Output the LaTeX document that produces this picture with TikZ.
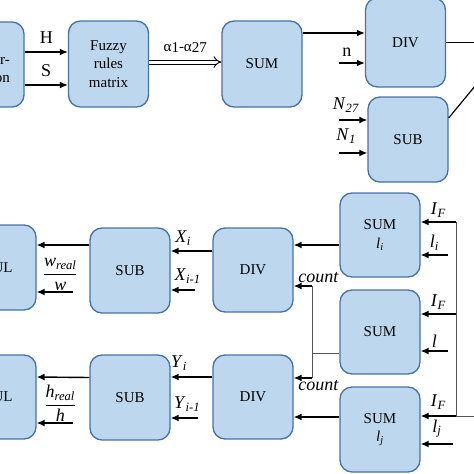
\documentclass[tikz,border=0pt]{standalone}
\usepackage{fontspec}
\setmainfont{Liberation Serif}
\usepackage{xcolor}
\usetikzlibrary{arrows.meta}
\definecolor{boxfill}{RGB}{189,215,238}
\definecolor{boxline}{RGB}{70,114,168}
\definecolor{busgray}{RGB}{85,85,85}
\newcommand{\sv}[2]{\textit{#1}\textsubscript{\textit{#2}}}

\begin{document}
\begin{tikzpicture}[x=1pt, y=-1pt, >={Latex[length=8pt,width=7pt]},
  blk/.style={draw=boxline, fill=boxfill, line width=1.3pt, rounded corners=12pt,
    minimum width=80pt, minimum height=85pt, align=center, inner sep=2pt,
    font=\fontsize{15}{18.5}\selectfont},
  sig/.style={line width=1.4pt, ->},
  bus/.style={line width=1pt, busgray},
  lab/.style={font=\fontsize{18}{20}\selectfont, inner sep=1pt}]
\useasboundingbox (0,0) rectangle (474,474);

% top row blocks
\node[blk, minimum width=94pt, align=right] (conv) at (-23,64.5) {\mbox{}\\Color-\\conversion};
\node[blk, minimum height=86pt] (fuzzy) at (108.5,64) {Fuzzy\\rules\\matrix};
\node[blk, minimum height=86pt] (sumA) at (262,64) {SUM};
\node[blk, minimum height=89pt] (divA) at (405.5,42.5) {DIV};
\node[blk] (subA) at (408,139.5) {SUB};

% SUM blocks on the right
\node[blk, minimum height=84pt] (sumI) at (380,235) {SUM\\\sv{l}{i}};
\node[blk, minimum height=84pt] (sumM) at (380,332) {SUM};
\node[blk] (sumJ) at (380,429.5) {SUM\\\sv{l}{j}};

% X and Y rows
\node[blk, minimum height=84pt] (divX) at (253,270) {DIV};
\node[blk, minimum height=84pt] (divY) at (253,397) {DIV};
\node[blk] (subX) at (130,270.5) {SUB};
\node[blk] (subY) at (130,397.5) {SUB};
\node[blk] (mulX) at (-4,267.5) {MUL};
\node[blk, minimum height=84pt] (mulY) at (-4,397) {MUL};

% free ends
\coordinate (nIn) at (339,63);
\coordinate (nA) at (339,120);
\coordinate (nB) at (339,153);
\coordinate (divOut) at (480,42.5);
\coordinate (subOut) at (480,80);
\coordinate (xPrev) at (195,290);
\coordinate (yPrev) at (198,418);
\coordinate (wIn) at (73,292);
\coordinate (hIn) at (73,423);
\coordinate (liIn) at (448,255);
\coordinate (lIn) at (448,351);
\coordinate (ljIn) at (453,444);
\coordinate (ifIn) at (480,416);
\coordinate (ifBus) at (456,416);
\coordinate (ifTop) at (456,222);
\coordinate (ifMid) at (456,314);
\coordinate (cTop) at (312,286);
\coordinate (cMid) at (312,353);
\coordinate (cBot) at (312,378);

% top row arrows
\draw[sig] ([yshift=12.5pt]conv.east) -- node[lab, above=7pt] {H} ([yshift=12pt]fuzzy.west);
\draw[sig] ([yshift=-20.5pt]conv.east) -- node[lab, above=7pt] {S} ([yshift=-21pt]fuzzy.west);
\draw[double, double distance=3pt, line width=1pt, -{Implies}] ([yshift=2pt]fuzzy.east) --
  node[lab, above=8pt, font=\fontsize{15}{17}\selectfont] {α\raisebox{-1.5pt}{1}-α\raisebox{-1.5pt}{27}} ([yshift=2pt]sumA.west);
\draw[sig] ([yshift=31pt]sumA.east) -- ([yshift=9.5pt]divA.west);
\draw[sig] (nIn) -- node[lab, above=5pt, pos=0.3] {n} ([yshift=-20.5pt]divA.west);
\draw[sig] (nA) -- node[lab, above=6pt, pos=0.25] {\sv{N}{27}} ([yshift=19.5pt]subA.west);
\draw[sig] (nB) -- node[lab, above=8pt, pos=0.25] {\sv{N}{1}} ([yshift=-13.5pt]subA.west);
\draw[line width=1.4pt] (divA.east) -- (divOut);
\draw[line width=1.2pt] ([yshift=21.5pt]subA.east) -- (subOut);

% X row
\draw[sig] ([yshift=-10pt]sumI.west) -- ([yshift=25pt]divX.east);
\draw[sig] ([yshift=19pt]divX.west) -- node[lab, above=4pt, pos=0.7] {\sv{X}{i}} ([yshift=19.5pt]subX.east);
\draw[sig] (xPrev) -- node[lab, above=5pt, pos=0.3] {\sv{X}{i-1}} ([yshift=-19.5pt]subX.east);
\draw[sig] ([yshift=25.5pt]subX.west) -- ([yshift=22.5pt]mulX.east);
\draw[sig] (wIn) -- node[lab, above=0pt, pos=0.35] {$\displaystyle\frac{\mbox{\sv{w}{real}}}{\mbox{\textit{w}}}$} ([yshift=-24.5pt]mulX.east);

% Y row
\draw[sig] ([yshift=12.5pt]sumJ.west) -- ([yshift=-20pt]divY.east);
\draw[sig] ([yshift=20pt]divY.west) -- node[lab, above=5pt, pos=0.8] {\sv{Y}{i}} ([yshift=20.5pt]subY.east);
\draw[sig] (yPrev) -- node[lab, above=5pt, pos=0.4] {\sv{Y}{i-1}} ([yshift=-20.5pt]subY.east);
\draw[sig] ([yshift=20pt]subY.west) -- ([yshift=20pt]mulY.east);
\draw[sig] (hIn) -- node[lab, above=0pt, pos=0.35] {$\displaystyle\frac{\mbox{\sv{h}{real}}}{\mbox{\textit{h}}}$} ([yshift=-26pt]mulY.east);

% count lines
\draw[bus] (cMid) -- (sumM.west |- cMid);
\draw[bus] (cTop) -- (cBot);
\draw[sig] (cTop) -- (divX.east |- cTop)
  node[lab, anchor=south west, xshift=3pt, yshift=2pt] {\textit{count}};
\draw[sig] (cBot) -- (divY.east |- cBot)
  node[lab, anchor=north west, xshift=3pt, yshift=-1pt] {\textit{count}};

% I_F bus and inputs
\draw[bus] (ifIn) -- (ifBus) -- (ifTop);
\draw[sig] (ifTop) -- node[lab, above=3pt] {\sv{I}{F}} (sumI.east |- ifTop);
\draw[sig] (ifMid) -- node[lab, above=3pt] {\sv{I}{F}} (sumM.east |- ifMid);
\draw[sig] (ifBus) -- node[lab, above=5pt] {\sv{I}{F}} (sumJ.east |- ifBus);
\draw[sig] (liIn) -- node[lab, above=3pt] {\sv{l}{i}} ([yshift=-20pt]sumI.east);
\draw[sig] (lIn) -- node[lab, above=2pt] {\textit{l}} ([yshift=-19pt]sumM.east);
\draw[sig] (ljIn) -- node[lab, above=5pt] {\sv{l}{j}} ([yshift=-14.5pt]sumJ.east);
\end{tikzpicture}
\end{document}
